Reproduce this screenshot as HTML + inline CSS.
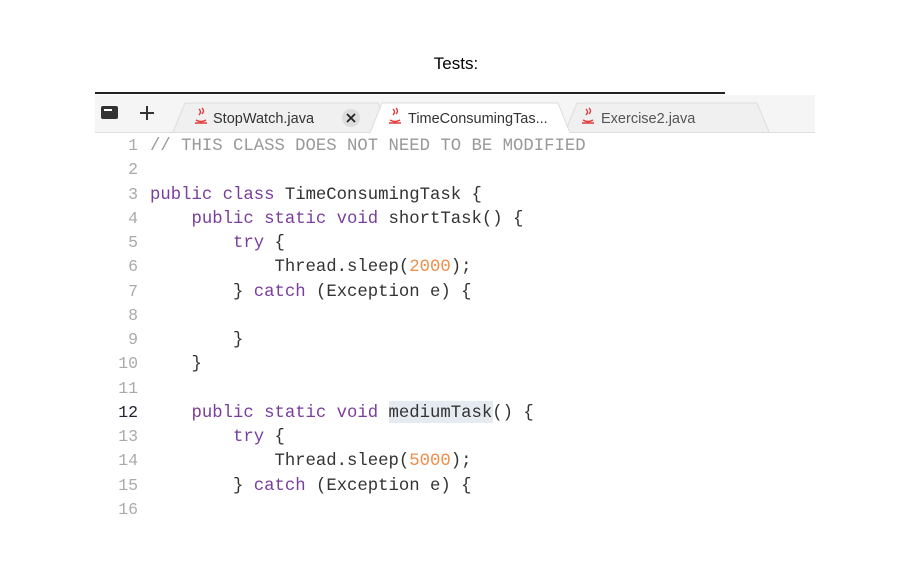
<!DOCTYPE html>
<html><head><style>
body{margin:0;width:920px;height:568px;background:#fff;position:relative;overflow:hidden;font-family:"Liberation Sans",sans-serif}
.t{position:absolute}
.code{position:absolute;left:150px;font-family:"Liberation Mono",monospace;font-size:17.3px;color:#333;white-space:pre;line-height:24.27px}
.ln{position:absolute;left:100px;width:38px;text-align:right;font-family:"Liberation Mono",monospace;font-size:16.5px;color:#aaa;line-height:24.27px}
.k{color:#7a3e9d}.n{color:#f08d49}.c{color:#999}
.tab{position:absolute;top:104px;height:30px;font-size:14.5px;color:#333;line-height:30px}
</style></head><body>
<div class="t" style="left:0;width:912px;top:54px;text-align:center;font-size:17px;color:#000">Tests:</div>
<div class="t" style="left:95px;top:92px;width:630px;height:2px;background:#222"></div>
<div class="t" style="left:95px;top:95px;width:720px;height:37px;background:#f5f5f5;border-bottom:1px solid #ddd"></div>
<svg class="t" style="left:95px;top:95px" width="720" height="38">
<rect x="6" y="11" width="17" height="13" rx="2" fill="#333"/>
<rect x="9" y="14" width="8" height="2" fill="#fff"/>
<path d="M52 11v14M45 18h14" stroke="#333" stroke-width="2"/>
<path d="M78 37 L90 8 L283 8 L295 37" fill="#f0f0f0" stroke="#ddd"/>
<path d="M470 37 L482 8 L662 8 L674 37" fill="#f0f0f0" stroke="#ddd"/>
<path d="M275 38 L287 8 L463 8 L475 38" fill="#fff" stroke="#ddd"/>
<rect x="276" y="36" width="198" height="3" fill="#fff"/>
<circle cx="256" cy="23" r="9" fill="#ddd"/>
<path d="M252 19l8 8M260 19l-8 8" stroke="#222" stroke-width="1.8"/>
<g fill="none" stroke="#e03a3a" stroke-width="1.4">
<path d="M100 28h12M101 25q5 3 10 0M104 14q3 3 0 6M107 13q3 3 0 6"/>
<path d="M294 28h12M295 25q5 3 10 0M298 14q3 3 0 6M301 13q3 3 0 6"/>
<path d="M487 28h12M488 25q5 3 10 0M491 14q3 3 0 6M494 13q3 3 0 6"/>
</g>
</svg>
<div class="tab" style="left:213px">StopWatch.java</div>
<div class="tab" style="left:408px">TimeConsumingTas...</div>
<div class="tab" style="left:601px;color:#555">Exercise2.java</div>
<div class="ln" style="top:134px">1<br>2<br>3<br>4<br>5<br>6<br>7<br>8<br>9<br>10<br>11<br><span style="color:#223">12</span><br>13<br>14<br>15<br>16</div>
<div class="t" style="left:389px;top:401px;width:104px;height:22px;background:#e6ebf1"></div>
<div class="code" style="top:135px"><span class="c">// THIS CLASS DOES NOT NEED TO BE MODIFIED</span>

<span class="k">public class</span> TimeConsumingTask {
    <span class="k">public static void</span> shortTask() {
        <span class="k">try</span> {
            Thread.sleep(<span class="n">2000</span>);
        } <span class="k">catch</span> (Exception e) {

        }
    }

    <span class="k">public static void</span> mediumTask() {
        <span class="k">try</span> {
            Thread.sleep(<span class="n">5000</span>);
        } <span class="k">catch</span> (Exception e) {
</div>
</body></html>
